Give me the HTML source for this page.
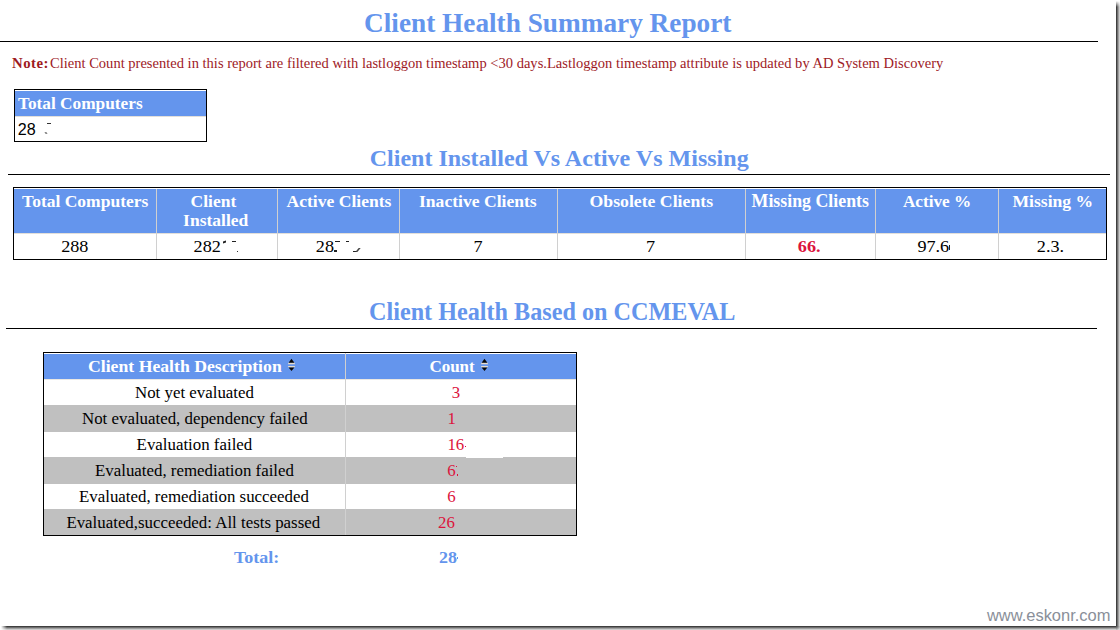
<!DOCTYPE html>
<html><head><meta charset="utf-8">
<style>
html,body{margin:0;padding:0;background:#fff;width:1120px;height:630px;overflow:hidden;position:relative}
.r{position:absolute}
.t{position:absolute;line-height:normal;white-space:nowrap}
b{font-weight:bold}
.note b{color:inherit}
</style></head><body>
<div class="r" style="left:0px;top:41px;width:1098px;height:1px;background:#000;"></div><div class="r" style="left:8px;top:174px;width:1102px;height:1px;background:#000;"></div><div class="r" style="left:6px;top:328px;width:1091px;height:1px;background:#000;"></div><div class="r" style="left:14px;top:89px;width:193px;height:53px;background:#fff;border:1px solid #000;box-sizing:border-box"></div><div class="r" style="left:15px;top:91px;width:191px;height:25px;background:#6495ED;"></div><div class="r" style="left:15px;top:116px;width:191px;height:1px;background:#e2dfda;"></div><div class="r" style="left:13px;top:187px;width:1094px;height:73px;background:#fff;border:1px solid #000;box-sizing:border-box"></div><div class="r" style="left:14px;top:189px;width:1092px;height:44px;background:#6495ED;"></div><div class="r" style="left:14px;top:233px;width:1092px;height:1px;background:#e2dfda;"></div><div class="r" style="left:156px;top:189px;width:1px;height:70px;background:#d0d0d0;"></div><div class="r" style="left:277px;top:189px;width:1px;height:70px;background:#d0d0d0;"></div><div class="r" style="left:399px;top:189px;width:1px;height:70px;background:#d0d0d0;"></div><div class="r" style="left:557px;top:189px;width:1px;height:70px;background:#d0d0d0;"></div><div class="r" style="left:745px;top:189px;width:1px;height:70px;background:#d0d0d0;"></div><div class="r" style="left:875px;top:189px;width:1px;height:70px;background:#d0d0d0;"></div><div class="r" style="left:998px;top:189px;width:1px;height:70px;background:#d0d0d0;"></div><div class="r" style="left:43px;top:352px;width:534px;height:184px;background:#fff;border:1px solid #000;box-sizing:border-box"></div><div class="r" style="left:44px;top:354px;width:532px;height:25px;background:#6495ED;"></div><div class="r" style="left:44px;top:379px;width:532px;height:1px;background:#ebe8e3;"></div><div class="r" style="left:44px;top:405px;width:532px;height:27px;background:#c0c0c0;"></div><div class="r" style="left:44px;top:457px;width:532px;height:27px;background:#c0c0c0;"></div><div class="r" style="left:44px;top:509px;width:532px;height:26px;background:#c0c0c0;"></div><div class="r" style="left:345px;top:353px;width:1px;height:182px;background:#d0d0d0;"></div>
<div class="t" style="left:364.1px;top:8.4px;font-family:'Liberation Serif', serif;font-weight:bold;font-size:27.28px;letter-spacing:0px;color:#6495ED;">Client Health Summary Report</div><div class="t" style="left:12.0px;top:54.7px;font-family:'Liberation Serif', serif;font-weight:bold;font-size:14.80px;letter-spacing:0.5px;color:#9e1a1f;">Note:</div><div class="t" style="left:50.0px;top:54.7px;font-family:'Liberation Serif', serif;font-weight:normal;font-size:14.54px;letter-spacing:0px;color:#9e1a1f;">Client Count presented in this report are filtered with lastloggon timestamp &lt;30 days.Lastloggon timestamp attribute is updated by AD System Discovery</div><div class="t" style="left:18.0px;top:94.1px;font-family:'Liberation Serif', serif;font-weight:bold;font-size:17.29px;letter-spacing:0px;color:#fff;">Total Computers</div><div class="t" style="left:17.8px;top:120.3px;font-family:'Liberation Sans', sans-serif;font-weight:normal;font-size:16.12px;letter-spacing:0px;color:#000;">28</div><div class="t" style="left:369.7px;top:144.6px;font-family:'Liberation Serif', serif;font-weight:bold;font-size:24.04px;letter-spacing:0px;color:#6495ED;">Client Installed Vs Active Vs Missing</div><div class="t" style="left:22.1px;top:190.5px;font-family:'Liberation Serif', serif;font-weight:bold;font-size:17.50px;letter-spacing:0px;color:#fff;">Total Computers</div><div class="t" style="left:190.6px;top:190.7px;font-family:'Liberation Serif', serif;font-weight:bold;font-size:17.50px;letter-spacing:0px;color:#fff;">Client</div><div class="t" style="left:183.1px;top:209.5px;font-family:'Liberation Serif', serif;font-weight:bold;font-size:17.50px;letter-spacing:0px;color:#fff;">Installed</div><div class="t" style="left:286.5px;top:190.5px;font-family:'Liberation Serif', serif;font-weight:bold;font-size:17.59px;letter-spacing:0px;color:#fff;">Active Clients</div><div class="t" style="left:419.0px;top:190.5px;font-family:'Liberation Serif', serif;font-weight:bold;font-size:17.58px;letter-spacing:0px;color:#fff;">Inactive Clients</div><div class="t" style="left:589.5px;top:190.5px;font-family:'Liberation Serif', serif;font-weight:bold;font-size:17.73px;letter-spacing:0px;color:#fff;">Obsolete Clients</div><div class="t" style="left:751.6px;top:190.5px;font-family:'Liberation Serif', serif;font-weight:bold;font-size:17.83px;letter-spacing:0px;color:#fff;">Missing Clients</div><div class="t" style="left:902.9px;top:191.5px;font-family:'Liberation Serif', serif;font-weight:bold;font-size:17.22px;letter-spacing:0px;color:#fff;">Active %</div><div class="t" style="left:1012.5px;top:190.5px;font-family:'Liberation Serif', serif;font-weight:bold;font-size:17.60px;letter-spacing:0px;color:#fff;">Missing %</div><div class="t" style="left:61.2px;top:237.3px;font-family:'Liberation Serif', serif;font-weight:normal;font-size:18.18px;letter-spacing:0px;color:#000;transform:scaleY(0.9300);transform-origin:0 0;">288</div><div class="t" style="left:193.6px;top:237.3px;font-family:'Liberation Serif', serif;font-weight:normal;font-size:18.18px;letter-spacing:0px;color:#000;transform:scaleY(0.9300);transform-origin:0 0;">282</div><div class="t" style="left:315.8px;top:237.3px;font-family:'Liberation Serif', serif;font-weight:normal;font-size:18.18px;letter-spacing:0px;color:#000;transform:scaleY(0.9300);transform-origin:0 0;">28</div><div class="t" style="left:473.6px;top:237.3px;font-family:'Liberation Serif', serif;font-weight:normal;font-size:18.18px;letter-spacing:0px;color:#000;transform:scaleY(0.9300);transform-origin:0 0;">7</div><div class="t" style="left:646.0px;top:237.3px;font-family:'Liberation Serif', serif;font-weight:normal;font-size:18.18px;letter-spacing:0px;color:#000;transform:scaleY(0.9300);transform-origin:0 0;">7</div><div class="t" style="left:797.8px;top:237.3px;font-family:'Liberation Serif', serif;font-weight:bold;font-size:18.18px;letter-spacing:0px;color:#dc143c;transform:scaleY(0.9300);transform-origin:0 0;">66.</div><div class="t" style="left:917.4px;top:237.3px;font-family:'Liberation Serif', serif;font-weight:normal;font-size:18.18px;letter-spacing:0px;color:#000;transform:scaleY(0.9300);transform-origin:0 0;">97.6</div><div class="t" style="left:1036.8px;top:237.3px;font-family:'Liberation Serif', serif;font-weight:normal;font-size:18.18px;letter-spacing:0px;color:#000;transform:scaleY(0.9300);transform-origin:0 0;">2.3.</div><div class="t" style="left:369.0px;top:298.4px;font-family:'Liberation Serif', serif;font-weight:bold;font-size:24.19px;letter-spacing:0px;color:#6495ED;">Client Health Based on CCMEVAL</div><div class="t" style="left:88.0px;top:356.0px;font-family:'Liberation Serif', serif;font-weight:bold;font-size:17.72px;letter-spacing:0px;color:#fff;">Client Health Description</div><div class="t" style="left:429.4px;top:356.9px;font-family:'Liberation Serif', serif;font-weight:bold;font-size:17.00px;letter-spacing:0px;color:#fff;">Count</div><div class="t" style="left:135.0px;top:383.3px;font-family:'Liberation Serif', serif;font-weight:normal;font-size:16.87px;letter-spacing:0px;color:#000;">Not yet evaluated</div><div class="t" style="left:82.0px;top:409.3px;font-family:'Liberation Serif', serif;font-weight:normal;font-size:16.87px;letter-spacing:0px;color:#000;">Not evaluated, dependency failed</div><div class="t" style="left:136.6px;top:435.3px;font-family:'Liberation Serif', serif;font-weight:normal;font-size:16.87px;letter-spacing:0px;color:#000;">Evaluation failed</div><div class="t" style="left:95.0px;top:461.3px;font-family:'Liberation Serif', serif;font-weight:normal;font-size:16.87px;letter-spacing:0px;color:#000;">Evaluated, remediation failed</div><div class="t" style="left:79.0px;top:487.3px;font-family:'Liberation Serif', serif;font-weight:normal;font-size:16.87px;letter-spacing:0px;color:#000;">Evaluated, remediation succeeded</div><div class="t" style="left:66.4px;top:513.3px;font-family:'Liberation Serif', serif;font-weight:normal;font-size:16.87px;letter-spacing:0px;color:#000;">Evaluated,succeeded: All tests passed</div><div class="t" style="left:451.8px;top:383.3px;font-family:'Liberation Serif', serif;font-weight:normal;font-size:16.87px;letter-spacing:0px;color:#dc143c;">3</div><div class="t" style="left:447.4px;top:409.3px;font-family:'Liberation Serif', serif;font-weight:normal;font-size:16.87px;letter-spacing:0px;color:#dc143c;">1</div><div class="t" style="left:447.4px;top:435.3px;font-family:'Liberation Serif', serif;font-weight:normal;font-size:16.87px;letter-spacing:0px;color:#dc143c;">16</div><div class="t" style="left:447.2px;top:461.3px;font-family:'Liberation Serif', serif;font-weight:normal;font-size:16.87px;letter-spacing:0px;color:#dc143c;">6</div><div class="t" style="left:447.2px;top:487.3px;font-family:'Liberation Serif', serif;font-weight:normal;font-size:16.87px;letter-spacing:0px;color:#dc143c;">6</div><div class="t" style="left:438.0px;top:513.3px;font-family:'Liberation Serif', serif;font-weight:normal;font-size:16.87px;letter-spacing:0px;color:#dc143c;">26</div><div class="t" style="left:233.9px;top:547.5px;font-family:'Liberation Serif', serif;font-weight:bold;font-size:18.00px;letter-spacing:0px;color:#6495ED;transform:scaleY(0.9300);transform-origin:0 0;">Total:</div><div class="t" style="left:439.1px;top:547.8px;font-family:'Liberation Serif', serif;font-weight:bold;font-size:18.00px;letter-spacing:0px;color:#6495ED;transform:scaleY(0.9300);transform-origin:0 0;">28</div><div class="t" style="left:986.9px;top:606.9px;font-family:'Liberation Sans', sans-serif;font-weight:normal;font-size:16.48px;letter-spacing:0px;color:#8a8f99;transform:scaleY(0.9500);transform-origin:0 0;">www.eskonr.com</div>
<!-- sort icons -->
<svg class="r" style="left:286px;top:357px" width="11" height="16" viewBox="0 0 11 16"><polygon points="1.8,7.2 9.2,7.2 8.3,5.6 2.7,5.6" fill="#e6dccb"/><polygon points="5.5,1.8 8.4,5.7 2.6,5.7" fill="#080808"/><polygon points="1.8,9 9.2,9 8.3,10.5 2.7,10.5" fill="#e6dccb"/><polygon points="2.6,10.4 8.4,10.4 5.5,14" fill="#080808"/></svg>
<svg class="r" style="left:479px;top:357px" width="11" height="16" viewBox="0 0 11 16"><polygon points="1.8,7.2 9.2,7.2 8.3,5.6 2.7,5.6" fill="#e6dccb"/><polygon points="5.5,1.8 8.4,5.7 2.6,5.7" fill="#080808"/><polygon points="1.8,9 9.2,9 8.3,10.5 2.7,10.5" fill="#e6dccb"/><polygon points="2.6,10.4 8.4,10.4 5.5,14" fill="#080808"/></svg>
<!-- fragments -->
<div class="r" style="left:47px;top:123px;width:4px;height:1px;background:#333"></div>
<div class="r" style="left:45px;top:132px;width:2px;height:2px;background:#888;transform:skewX(30deg)"></div>
<div class="r" style="left:223px;top:241px;width:3px;height:2px;background:#222;transform:skewY(-20deg)"></div>
<div class="r" style="left:232px;top:241px;width:4px;height:1px;background:#222"></div>
<div class="r" style="left:237px;top:251px;width:1px;height:1px;background:#333"></div>
<div class="r" style="left:335px;top:241px;width:5px;height:1px;background:#222"></div>
<div class="r" style="left:334px;top:250px;width:3px;height:2px;background:#222"></div>
<div class="r" style="left:346px;top:241px;width:3px;height:1px;background:#222"></div>
<div class="r" style="left:353px;top:251px;width:4px;height:1px;background:#222"></div>
<div class="r" style="left:357px;top:248px;width:1.5px;height:4px;background:#444;transform:skewX(-40deg)"></div>
<div class="r" style="left:949px;top:245px;width:1px;height:5px;background:#222"></div>
<div class="r" style="left:465px;top:446px;width:1px;height:1px;background:#dc143c"></div>
<div class="r" style="left:456px;top:466px;width:1px;height:1px;background:#dc143c"></div>
<div class="r" style="left:457px;top:474px;width:1px;height:2px;background:#dc143c"></div>
<div class="r" style="left:466px;top:457px;width:37px;height:1px;background:#fff"></div>
<div class="r" style="left:457px;top:557px;width:1px;height:2px;background:#6495ED"></div>
<!-- shadow -->
<div class="r" style="left:1116px;top:0;width:4px;height:630px;background:linear-gradient(to right,#3f3f3f 0,#3f3f3f 0.5px,#707070 1.5px,#a0a0a0 2.5px,#cdcdcd 3.5px,#cdcdcd 4px)"></div>
<div class="r" style="left:0;top:626px;width:1120px;height:4px;background:linear-gradient(to bottom,#3f3f3f 0,#3f3f3f 0.5px,#707070 1.5px,#a0a0a0 2.5px,#cdcdcd 3.5px,#cdcdcd 4px)"></div>
<div class="r" style="left:1116px;top:0;width:4px;height:7px;background:linear-gradient(to bottom,#fff 0,#fff 1px,rgba(255,255,255,0) 7px)"></div>
<div class="r" style="left:0;top:626px;width:7px;height:4px;background:linear-gradient(to right,#fff 0,#fff 1px,rgba(255,255,255,0) 7px)"></div>
<div class="r" style="left:1116px;top:626px;width:4px;height:4px;background:radial-gradient(circle at 0 0,#3f3f3f 0,#707070 1.5px,#a0a0a0 2.8px,#d8d8d8 4.5px)"></div>

</body></html>
